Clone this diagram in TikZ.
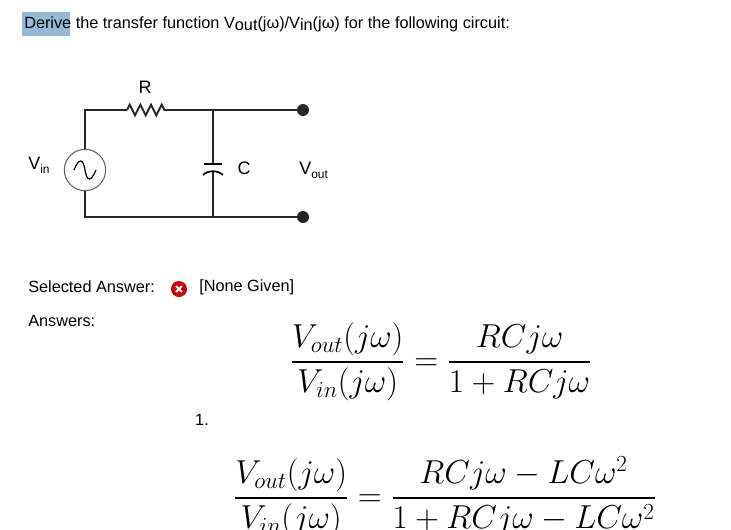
\documentclass[tikz,border=0pt]{standalone}
\usepackage{fontspec}
\setmainfont{Liberation Sans}
\usepackage{amsmath}
\usetikzlibrary{decorations.pathmorphing,calc}
\definecolor{hl}{RGB}{150,185,215}
\begin{document}
\begin{tikzpicture}[x=0.75pt,y=-0.75pt,
  txt/.style={font=\fontsize{12.2}{14}\selectfont,inner sep=0pt},
  wire/.style={line width=1.4pt,black!85},
  term/.style={circle,fill=black!85,inner sep=0pt,minimum size=9pt},
  eq/.style={font=\fontsize{23}{28}\selectfont,inner sep=0pt}]
\path[use as bounding box,clip] (0,0) rectangle (731,529);
\fill[white] (0,0) rectangle (731,529);
% header
\fill[hl] (22,12) rectangle (70,36);
\node[txt,anchor=west] (hdr) at (24,24) {Derive the transfer function V\raisebox{-0.3ex}{out}(j\char"03C9)/V\raisebox{-0.3ex}{in}(j\char"03C9) for the following circuit:};
% circuit
\coordinate (tl) at (85,110);
\coordinate (bl) at (85,217);
\coordinate (r1) at (127,110);
\coordinate (r2) at (168,110);
\coordinate (ct) at (213,110);
\coordinate (cb) at (213,217);
\coordinate (c1) at (213,164);
\coordinate (c2) at (213,171);
\node[term] (o1) at (303,110) {};
\node[term] (o2) at (303,217) {};
\node[circle,draw=black!60,line width=0.8pt,minimum size=31pt,inner sep=0pt] (src) at (85,170) {};
\draw[line width=0.9pt] (74,170) .. controls (79,158) and (83,158) .. (85,170) .. controls (87,182) and (91,182) .. (96,170);
\draw[wire] (src.north) -- (tl) -- (r1);
\draw[wire,decorate,decoration={zigzag,segment length=8pt,amplitude=4pt}] (r1) -- (r2);
\draw[wire] (r2) -- (o1);
\draw[wire] (src.south) -- (bl) -- (o2);
\draw[wire] (ct) -- (c1);
\draw[wire] (c2) -- (cb);
\draw[line width=1.3pt] (204,164) -- (222,164);
\draw[line width=1.3pt] (203,175) .. controls (208,170) and (218,170) .. (223,175);
\node[txt,font=\fontsize{13.5}{15}\selectfont] (lr) at (145,87) {R};
\node[txt,font=\fontsize{13.5}{15}\selectfont] (lc) at (244,168) {C};
\node[txt,font=\fontsize{13.5}{15}\selectfont,anchor=west] (lvo) at (299,170) {V\raisebox{-0.4ex}{\small out}};
\node[txt,font=\fontsize{13.5}{15}\selectfont,anchor=west] (lvi) at (28,165) {V\raisebox{-0.4ex}{\small in}};
% answers
\node[txt,anchor=west] (sel) at (28,287) {Selected Answer:};
\node[circle,fill=red!80!black,inner sep=0pt,minimum size=12pt] (ic) at (179,289) {};
\draw[white,line width=1.4pt] ($(ic)+(-3,-3)$) -- ($(ic)+(3,3)$) ($(ic)+(-3,3)$) -- ($(ic)+(3,-3)$);
\node[txt,anchor=west] (ng) at (199,287) {[None Given]};
\node[txt,anchor=west] (ans) at (28,321) {Answers:};
\node[eq] (f1) at (441,362) {$\dfrac{V_{out}(j\omega)}{V_{in}(j\omega)}=\dfrac{RCj\omega}{1+RCj\omega}$};
\node[txt] (n1) at (202,420) {1.};
\node[eq] (f2) at (445,497) {$\dfrac{V_{out}(j\omega)}{V_{in}(j\omega)}=\dfrac{RCj\omega-LC\omega^2}{1+RCj\omega-LC\omega^2}$};
\end{tikzpicture}
\end{document}
